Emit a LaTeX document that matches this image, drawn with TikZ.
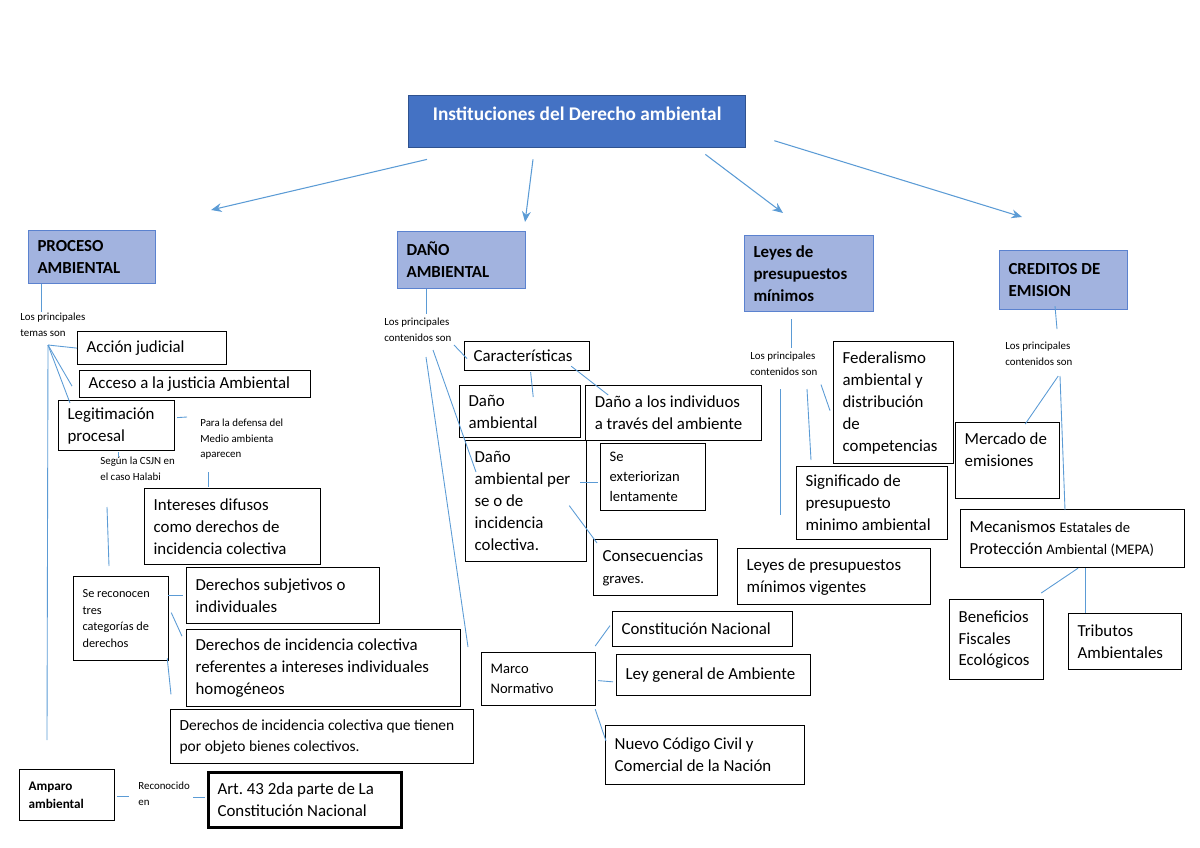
\documentclass[tikz,border=0pt]{standalone}
\usepackage{fontspec}
\setmainfont{Carlito}
\usetikzlibrary{positioning,arrows.meta}

\definecolor{titlefill}{HTML}{4472C4}
\definecolor{titleline}{HTML}{2F528F}
\definecolor{headfill}{HTML}{A2B3DF}
\definecolor{headline}{HTML}{5B82CF}
\definecolor{linkblue}{HTML}{5B9BD5}

\newcommand{\txt}{\fontsize{9.6}{12.5}\selectfont}
\newcommand{\smalltxt}{\fontsize{6.2}{8.8}\selectfont}
\newcommand{\midtxt}{\fontsize{8.3}{11.4}\selectfont}

\hyphenpenalty=10000
\exhyphenpenalty=10000
\frenchspacing

\tikzset{
  sz/.code 2 args={\pgfmathsetmacro\bw{#1*0.02}\pgfmathsetmacro\bh{#2*0.02}\pgfmathsetmacro\tw{#1*0.02-0.36}%
    \edef\szargs{minimum width=\bw cm,minimum height=\bh cm,text width=\tw cm}%
    \expandafter\pgfkeysalso\expandafter{\szargs}},
  box/.style={draw=black, line width=0.7pt, anchor=north west, align=flush left,
    inner xsep=0.18cm, inner ysep=2pt, font=\txt},
  head/.style={box, draw=headline, line width=0.6pt, fill=headfill, font=\txt\bfseries},
  note/.style={anchor=north west, align=flush left, inner sep=0pt, font=\smalltxt},
  link/.style={draw=linkblue, line width=0.5pt},
  branch/.style={link, line width=0.6pt, -{Stealth[length=6pt,width=5pt]}}
}

\begin{document}
\begin{tikzpicture}[x=0.02cm, y=-0.02cm]
\useasboundingbox (0,0) rectangle (1200,848);

% title and the four branches
\node[draw=titleline, line width=0.8pt, fill=titlefill, text=white, font=\fontsize{11}{13}\selectfont\bfseries,
  anchor=north west, minimum width=6.74cm, minimum height=1.04cm, text depth=9pt] (title) at (408,95)
  {Instituciones del Derecho ambiental};

\node[head, sz={127}{53}] (pa) at (28,230) {PROCESO\\AMBIENTAL};
\node[head, sz={128}{57}] (da) at (397,231) {DAÑO\\AMBIENTAL};
\node[head, sz={129}{76}] (lp) at (744,235) {Leyes de\\presupuestos\\mínimos};
\node[head, sz={128}{59}] (ce) at (999,250) {CREDITOS DE\\EMISION};

\draw[branch] ([shift={(19,11)}]title.south west) -- ([shift={(55,-20)}]pa.north east);
\draw[branch] ([shift={(125,11)}]title.south west) -- ([shift={(-1,-9)}]da.north east);
\draw[branch] ([shift={(-41,6)}]title.south east) -- ([shift={(39,-22)}]lp.north west);
\draw[branch] ([shift={(28,19)}]title.east) -- ([shift={(23,-33)}]ce.north west);

% proceso ambiental
\node[note] (temas) at (20,313) {Los principales\\temas son};
\node[box, sz={149}{33}] (accion) at (77,331) {Acción judicial};
\node[box, sz={231}{27}] (acceso) at (79,370) {Acceso a la justicia Ambiental};
\node[box, sz={116}{50}] (legit) at (58,400) {Legitimación\\procesal};
\node[note] (defensa) at (200,419) {Para la defensa del\\Medio ambienta\\aparecen};
\node[note] (halabi) at (100,457) {Según la CSJN en\\el caso Halabi};
\node[box, sz={176}{76}] (difusos) at (144,488) {Intereses difusos\\como derechos de\\incidencia colectiva};
\node[box, sz={95}{84}, font=\fontsize{7}{9.6}\selectfont] (categ) at (73,576) {Se reconocen\\tres\\categorías de\\derechos};
\node[box, sz={193}{56}] (subj) at (186,567) {Derechos subjetivos o\\individuales};
\node[box, sz={274}{77}, below=0.1cm of subj.south west, anchor=north west] (homog) {Derechos de incidencia colectiva\\referentes a intereses individuales\\homogéneos};
\node[box, sz={303}{54}, font=\fontsize{8.8}{12}\selectfont] (bienes) at (170,709) {Derechos de incidencia colectiva que tienen\\por objeto bienes colectivos.};
\node[box, sz={95}{51}, font=\fontsize{7.5}{10}\selectfont\bfseries] (amparo) at (19,769) {Amparo\\ambiental};
\node[note] (recon) at (138,782) {Reconocido\\en};
\node[box, sz={193}{55}, line width=1.8pt] (art) at (207,771) {Art. 43 2da parte de La\\Constitución Nacional};

\coordinate (hub) at ([shift={(28,32)}]temas.north west);
\draw[link] ([shift={(13,0)}]pa.south west) -- ([shift={(21,-1)}]temas.north west);
\draw[link] (hub) -- (accion.west);
\draw[link] (hub) -- ([shift={(-7,2)}]acceso.west);
\draw[link] (hub) -- ([shift={(12,3)}]legit.north west);
\draw[link] (hub) -- ([shift={(28,-29)}]amparo.north west);
\draw[link] ([shift={(2,-8)}]legit.east) -- ([shift={(-13,-2)}]defensa.north west);
\draw[link] ([shift={(2,1)}]legit.south) -- ([shift={(2,6)}]legit.south);
\draw[link] ([shift={(64,-16)}]difusos.north west) -- ([shift={(64,-1)}]difusos.north west);
\draw[link] ([shift={(34,-69)}]categ.north west) -- ([shift={(36,-10)}]categ.north west);
\draw[link] ([shift={(-18,0)}]subj.west) -- ([shift={(-3,0)}]subj.west);
\draw[link] ([shift={(2,-6)}]categ.east) -- ([shift={(-4,7)}]homog.north west);
\draw[link] ([shift={(-2,-3)}]categ.south east) -- ([shift={(-15,-13)}]homog.south west);
\draw[link] ([shift={(2,1.5)}]amparo.east) -- ([shift={(14,1.5)}]amparo.east);
\draw[link] ([shift={(-14,-2.5)}]art.west) -- ([shift={(-2,-2.5)}]art.west);

% dano ambiental
\node[note] (contda) at (384,318) {Los principales\\contenidos son};
\node[box, sz={125}{29}] (caract) at (464,341) {Características};
\node[box, sz={121}{52}] (dam) at (459,385) {Daño\\ambiental};
\node[box, sz={176}{55}, right=0.08cm of dam.north east, anchor=north west] (indiv) {Daño a los individuos\\a través del ambiente};
\node[box, sz={121}{121}] (perse) at (465,440) {Daño\\ambiental per\\se o de\\incidencia\\colectiva.};
\node[box, sz={105}{67}, font=\midtxt] (lento) at (600,443) {Se\\exteriorizan\\lentamente};
\node[box, sz={124}{56}] (graves) at (593,539) {Consecuencias\\{\midtxt graves.}};
\node[box, sz={114}{53}, font=\midtxt] (marco) at (481,652) {Marco\\Normativo};
\node[box, sz={180}{35}] (consti) at (612,611) {Constitución Nacional};
\node[box, sz={194}{41}, below=0.14cm of consti.south west, anchor=north west, xshift=0.08cm] (leygral) {Ley general de Ambiente};
\node[box, sz={199}{59}] (codigo) at (605,725) {Nuevo Código Civil y\\Comercial de la Nación};

\draw[link] ([shift={(29,0)}]da.south west) -- ([shift={(29,25)}]da.south west);
\draw[link] ([shift={(70,27)}]contda.north west) -- ([shift={(3,2.5)}]caract.west);
\draw[link] ([shift={(3.5,1)}]caract.south) -- ([shift={(-48,12)}]dam.north east);
\draw[link] ([shift={(-19,-5)}]caract.south east) -- ([shift={(23,10)}]indiv.north west);
\draw[link] ([shift={(49,32)}]contda.north west) -- ([shift={(11,32)}]perse.north west);
\draw[link] ([shift={(42,39)}]contda.north west) -- ([shift={(-13,-5)}]marco.north west);
\draw[link] ([shift={(-20,5.5)}]lento.west) -- ([shift={(-2,5.5)}]lento.west);
\draw[link] ([shift={(-18,4.5)}]perse.east) -- ([shift={(4,4)}]graves.north west);
\draw[link] ([shift={(-1,-6)}]marco.north east) -- ([shift={(-2,-3.5)}]consti.west);
\draw[link] ([shift={(2,1.5)}]marco.east) -- ([shift={(-3,6.5)}]leygral.west);
\draw[link] ([shift={(-1,3)}]marco.south east) -- ([shift={(1,16)}]codigo.north west);

% leyes de presupuestos minimos
\node[note] (contlp) at (750,352) {Los principales\\contenidos son};
\node[box, sz={120}{122}] (feder) at (833,341) {Federalismo\\ambiental y\\distribución\\de\\competencias};
\node[box, sz={151}{73}] (signif) at (796,466) {Significado de\\presupuesto\\minimo ambiental};
\node[box, sz={193}{56}] (vigentes) at (737,548) {Leyes de presupuestos\\mínimos vigentes};

\draw[link] ([shift={(47,7)}]lp.south west) -- ([shift={(47,36)}]lp.south west);
\draw[link] ([shift={(-12,-18)}]feder.west) -- ([shift={(-3,8)}]feder.west);
\draw[link] ([shift={(11,-77)}]signif.north west) -- ([shift={(15,-6)}]signif.north west);
\draw[link] ([shift={(43,-159)}]vigentes.north west) -- ([shift={(43,-33)}]vigentes.north west);

% creditos de emision
\node[note] (contce) at (1005,342) {Los principales\\contenidos son};
\node[box, sz={104}{76}] (mercado) at (955,422) {Mercado de\\emisiones\\~};
\node[box, sz={224}{58}] (mepa) at (960,509) {Mecanismos {\midtxt Estatales de}\\Protección {\midtxt Ambiental (MEPA)}};
\node[box, sz={94}{80}] (benef) at (949,599) {Beneficios\\Fiscales\\Ecológicos};
\node[box, sz={113}{56}] (tribut) at (1068,613) {Tributos\\Ambientales};

\draw[link] ([shift={(56,-4)}]ce.south west) -- ([shift={(58,19)}]ce.south west);
\draw[link] ([shift={(-2,-46)}]mercado.north east) -- ([shift={(-35,2)}]mercado.north east);
\draw[link] ([shift={(100,-133)}]mepa.north west) -- ([shift={(105,1)}]mepa.north west);
\draw[link] ([shift={(118,0)}]mepa.south west) -- ([shift={(-3,-6)}]benef.north east);
\draw[link] ([shift={(125,0)}]mepa.south west) -- ([shift={(17,0)}]tribut.north west);
\end{tikzpicture}
\end{document}
